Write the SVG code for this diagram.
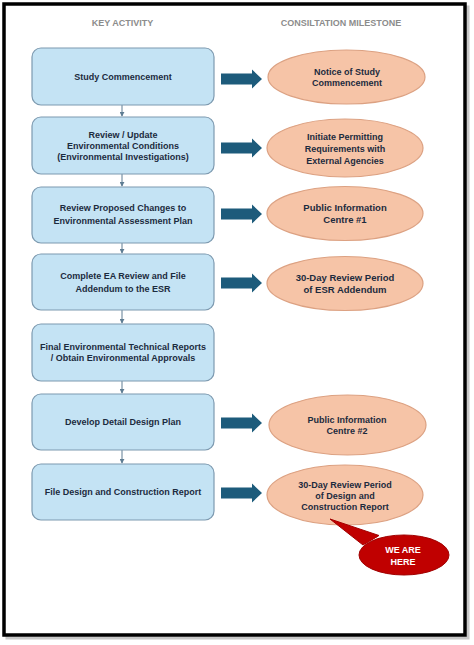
<svg xmlns="http://www.w3.org/2000/svg" width="474" height="645" viewBox="0 0 474 645">
  <defs>
    <style>
      .hdr{font-family:"Liberation Sans",Arial,sans-serif;font-weight:bold;font-size:9px;fill:#8c8c8c;text-anchor:middle}
      .box rect{fill:#c4e3f4;stroke:#7d9ab0;stroke-width:1.2}
      .box text,.ms text{font-family:"Liberation Sans",Arial,sans-serif;font-weight:bold;font-size:9px;fill:#1c2b3e;text-anchor:middle}
      .ms ellipse{fill:#f6c4a7;stroke:#dca182;stroke-width:1.2}
      .ms.big text{font-size:9.5px}
      .blk{fill:#1d5b7b}
      .vc{stroke:#5f7d93;stroke-width:1;fill:none}
      .callout text{font-family:"Liberation Sans",Arial,sans-serif;font-weight:bold;font-size:9px;fill:#ffffff;text-anchor:middle}
    </style>
    <marker id="ah" viewBox="0 0 6 6" refX="5" refY="3" markerWidth="5" markerHeight="5" orient="auto">
      <path d="M0,0 L6,3 L0,6 z" fill="#5f7d93"/>
    </marker>
    <path id="blockarrow" d="M0,-5.5 L31,-5.5 L31,-9.5 L41,0 L31,9.5 L31,5.5 L0,5.5 z"/>
  </defs>

  <rect x="0" y="0" width="474" height="645" fill="#ffffff"/>
  <rect x="7" y="7" width="461" height="631" fill="none" stroke="#c8c8c8" stroke-width="3"/>
  <rect x="4" y="4" width="461" height="631" fill="#ffffff" stroke="#000000" stroke-width="3.5"/>

  <g id="headers">
    <text class="hdr" x="122.5" y="26">KEY ACTIVITY</text>
    <text class="hdr" x="341" y="26">CONSILTATION MILESTONE</text>
  </g>

  <g id="connectors">
    <line class="vc" x1="122" y1="105" x2="122" y2="116" marker-end="url(#ah)"/>
    <line class="vc" x1="122" y1="174" x2="122" y2="186" marker-end="url(#ah)"/>
    <line class="vc" x1="122" y1="243" x2="122" y2="253" marker-end="url(#ah)"/>
    <line class="vc" x1="122" y1="310" x2="122" y2="323" marker-end="url(#ah)"/>
    <line class="vc" x1="122" y1="381" x2="122" y2="393" marker-end="url(#ah)"/>
    <line class="vc" x1="122" y1="450" x2="122" y2="463" marker-end="url(#ah)"/>
    <use href="#blockarrow" class="blk" x="221" y="79"/>
    <use href="#blockarrow" class="blk" x="221" y="148"/>
    <use href="#blockarrow" class="blk" x="221" y="214"/>
    <use href="#blockarrow" class="blk" x="221" y="283"/>
    <use href="#blockarrow" class="blk" x="221" y="423"/>
    <use href="#blockarrow" class="blk" x="221" y="493"/>
  </g>

  <g id="box1" class="box">
    <rect x="32" y="48" width="182" height="57" rx="9"/>
    <text x="123" y="80">Study Commencement</text>
  </g>
  <g id="box2" class="box">
    <rect x="32" y="117" width="182" height="57" rx="9"/>
    <text x="123" y="137.5">Review / Update</text>
    <text x="123" y="148.5">Environmental Conditions</text>
    <text x="123" y="160">(Environmental Investigations)</text>
  </g>
  <g id="box3" class="box">
    <rect x="32" y="187" width="182" height="56" rx="9"/>
    <text x="123" y="211">Review Proposed Changes to</text>
    <text x="123" y="223.5">Environmental Assessment Plan</text>
  </g>
  <g id="box4" class="box">
    <rect x="32" y="254" width="182" height="56" rx="9"/>
    <text x="123" y="279">Complete EA Review and File</text>
    <text x="123" y="291.5">Addendum to the ESR</text>
  </g>
  <g id="box5" class="box">
    <rect x="32" y="324" width="182" height="57" rx="9"/>
    <text x="123" y="350">Final Environmental Technical Reports</text>
    <text x="123" y="361">/ Obtain Environmental Approvals</text>
  </g>
  <g id="box6" class="box">
    <rect x="32" y="394" width="182" height="56" rx="9"/>
    <text x="123" y="425">Develop Detail Design Plan</text>
  </g>
  <g id="box7" class="box">
    <rect x="32" y="464" width="182" height="56" rx="9"/>
    <text x="123" y="495">File Design and Construction Report</text>
  </g>

  <g id="ms1" class="ms">
    <ellipse cx="346.5" cy="77" rx="78.5" ry="27"/>
    <text x="347" y="74.5">Notice of Study</text>
    <text x="347" y="85.5">Commencement</text>
  </g>
  <g id="ms2" class="ms">
    <ellipse cx="345" cy="148" rx="78" ry="29"/>
    <text x="345" y="140">Initiate Permitting</text>
    <text x="345" y="152">Requirements with</text>
    <text x="345" y="163.5">External Agencies</text>
  </g>
  <g id="ms3" class="ms big">
    <ellipse cx="345" cy="213.5" rx="78" ry="27"/>
    <text x="345" y="210.5">Public Information</text>
    <text x="345" y="223">Centre #1</text>
  </g>
  <g id="ms4" class="ms big">
    <ellipse cx="345" cy="283.5" rx="78" ry="27"/>
    <text x="345" y="280.5">30-Day Review Period</text>
    <text x="345" y="293">of ESR Addendum</text>
  </g>
  <g id="ms6" class="ms">
    <ellipse cx="347.5" cy="425" rx="78.5" ry="30"/>
    <text x="347" y="422.5">Public Information</text>
    <text x="347" y="433.5">Centre #2</text>
  </g>
  <g id="ms7" class="ms">
    <ellipse cx="345" cy="495" rx="78" ry="30"/>
    <text x="345" y="488">30-Day Review Period</text>
    <text x="345" y="499">of Design and</text>
    <text x="345" y="510">Construction Report</text>
  </g>

  <g id="callout" class="callout">
    <path d="M330,519 L379,535.5 L363,545 z" fill="#c00000" stroke="#a00000" stroke-width="1"/>
    <ellipse cx="404" cy="555" rx="45" ry="20" fill="#c00000" stroke="#a00000" stroke-width="1"/>
    <path d="M331.5,519.8 L378,536.5 L364.5,544 z" fill="#c00000"/>
    <text x="403" y="553">WE ARE</text>
    <text x="403" y="565">HERE</text>
  </g>
</svg>
